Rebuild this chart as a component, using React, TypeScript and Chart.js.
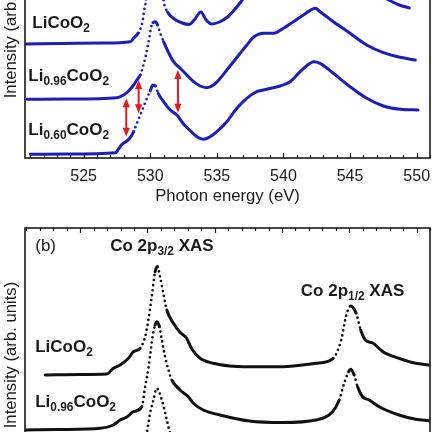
import { useEffect, useRef } from 'react';
import { Chart, registerables } from 'chart.js';

Chart.register(...registerables);

// ---------- (a) O K-edge XAS (photon energy in eV, intensity in arb. units) ----------
const oEnergyLiCoO2 = [520.7, 523.5, 526.5, 528.5, 528.75, 529.1, 529.4, 529.55, 529.7, 529.85, 530.05, 530.3, 530.55, 530.8, 531.0, 531.3, 531.8, 532.4, 532.9, 533.3, 533.8, 534.2, 534.6, 535.2, 535.8, 536.3, 536.8, 537.5, 538.5, 539.5, 540.5, 541.5, 542.5, 543.5, 545.0, 546.0, 547.0, 547.9, 548.7, 549.45];
const oIntensityLiCoO2 = [114, 114.5, 115, 116.3, 119.7, 125, 135, 148, 160, 190, 225, 240, 228, 190, 158, 146, 139, 135, 133.5, 138, 146, 138, 134, 136, 141, 148, 156, 170, 185, 190, 197, 205, 210, 200, 187, 175, 165, 158, 153, 150];

const oEnergyLi096 = [520.75, 523.75, 527.5, 528.0, 528.4, 528.75, 529.0, 529.25, 529.45, 529.65, 529.8, 529.95, 530.05, 530.2, 530.38, 530.55, 530.75, 531.0, 531.4, 531.75, 532.25, 532.75, 533.25, 533.75, 534.25, 534.75, 535.25, 535.75, 536.25, 536.75, 537.25, 537.75, 538.5, 539.25, 540.0, 540.75, 541.5, 542.4, 542.75, 543.75, 545.0, 546.25, 547.5, 548.75, 549.9];
const oIntensityLi096 = [58.7, 59, 60.3, 63, 67.3, 73, 78, 83, 91.3, 101.3, 111.3, 121.3, 129.7, 135.3, 136.3, 133, 124.7, 116.3, 104.7, 96.3, 89.7, 83, 76.3, 72, 70.3, 73, 79.7, 88, 96.3, 104.7, 113, 120.7, 124.7, 124.7, 129.7, 136.3, 143, 149.7, 146.3, 136.3, 124.7, 113, 105.3, 100.7, 98];

const oEnergyLi060 = [521.0, 523.75, 527.4, 527.6, 527.9, 528.25, 528.55, 528.75, 529.0, 529.25, 529.5, 529.75, 530.0, 530.2, 530.4, 530.6, 531.0, 531.5, 532.0, 532.5, 533.0, 533.5, 534.0, 534.5, 535.0, 535.75, 536.5, 537.25, 538.0, 538.75, 539.75, 540.5, 541.25, 542.0, 542.25, 542.75, 543.75, 545.0, 546.25, 547.5, 548.75, 550.1];
const oIntensityLi060 = [3.7, 4, 5.3, 8.7, 14, 17, 21.3, 26.3, 34.7, 43, 51.3, 59.7, 67.3, 73, 72, 64.7, 56.3, 48, 43, 34, 27.3, 21.3, 18.7, 21.3, 26.3, 36.3, 49.7, 59.7, 66.3, 68.7, 72, 76.3, 86.3, 94.7, 96.3, 94.7, 84.7, 71.3, 59.7, 52, 48.7, 48];

// Double-headed arrows marking the new pre-edge / shoulder features
const arrowEnergy = [528.2, 529.13, 532.08];
const arrowUpper = [59.7, 78, 88];
const arrowLower = [21.3, 44.7, 45.3];

const oLabelTexts = ['LiCoO{2}', 'Li{0.96}CoO{2}', 'Li{0.60}CoO{2}'];

// ---------- (b) Co 2p XAS ----------
const coEnergyLiCoO2 = [772.4, 775.0, 776.98, 777.47, 777.97, 778.59, 778.96, 779.45, 779.83, 780.07, 780.32, 780.57, 780.74, 780.94, 781.18, 781.44, 781.93, 782.4, 782.9, 783.3, 783.91, 784.9, 786.1, 787.55, 790.05, 792.5, 793.8, 794.4, 794.75, 795.1, 795.5, 795.85, 796.2, 796.75, 797.5, 798.7, 799.95, 800.9];
const coIntensityLiCoO2 = [107, 107.5, 108, 113.7, 117, 123.7, 130.3, 133.7, 145.3, 162, 185.3, 210.3, 215.3, 205.3, 188.7, 172, 158.7, 150, 144, 133, 123.7, 118.7, 116, 115.3, 115.3, 118.7, 123.7, 142, 165.3, 176, 169, 152, 142, 139, 130.3, 123.7, 118.7, 117];

const coEnergyLi096 = [770.9, 773.5, 776.5, 777.47, 777.97, 778.47, 778.96, 779.58, 779.83, 780.07, 780.25, 780.4, 780.57, 780.69, 780.89, 781.07, 781.31, 781.56, 781.81, 782.42, 783.04, 783.41, 784.15, 785.39, 787.57, 790.05, 792.52, 793.76, 794.25, 794.62, 794.95, 795.12, 795.36, 795.62, 795.99, 796.48, 797.22, 798.7, 799.94, 800.93];
const coIntensityLi096 = [52, 52.5, 53.7, 57, 62, 65, 70.3, 75.3, 95.3, 113.7, 132, 147, 157, 160.3, 155.3, 142, 125.3, 112, 102, 92, 85.3, 78.7, 72, 67, 61, 59.5, 62, 70.3, 82, 98.7, 110.3, 112.7, 107, 95.3, 85.3, 82, 75.3, 67, 62.7, 61.3];

const coEnergyLi060 = [770.9, 774, 777, 778, 779, 779.6, 779.95, 780.2, 780.44, 780.69, 781.07, 781.44, 781.68, 782.5, 784, 786, 790, 793.5, 794.5, 795.2, 796, 798, 800.9];
const coIntensityLi060 = [5, 5.5, 7, 12, 22, 32, 49, 69, 82, 93.7, 82, 62, 49, 35, 25, 19, 15, 18, 30, 45, 32, 22, 18];

const coLabelTexts = ['LiCoO{2}', 'Li{0.96}CoO{2}'];
const coEdgeTexts = ['Co 2p{3/2} XAS', 'Co 2p{1/2} XAS'];

// ---------- styling ----------
const FAMILY = '"Liberation Sans", Arial, Helvetica, sans-serif';
const TEXT = '#1a1a1a';
const BLUE = '#1b1fb8';
const BLACK = '#111111';
const RED = '#e3191f';
const CANVAS_W = 462;
const AREA_RIGHT = 430;
const X_AXIS_H = 48;
const LABEL_SIZE = 17;
const TICK_SIZE = 16;
const TITLE_SIZE = 16.7;
// on steep edges the measured points spread apart and read as separate dots
const STEEP_SLOPE = 2.2;
const DOT_PATTERN = [0, 5];

type Item = { text: string; x: number; y: number; bold: boolean; size: number };

function parseRich(s: string) {
  const segs: { t: string; sub: boolean }[] = [];
  const re = /([^{}]+)|\{([^}]*)\}/g;
  let m: RegExpExecArray | null;
  while ((m = re.exec(s))) {
    if (m[1]) segs.push({ t: m[1], sub: false });
    else segs.push({ t: m[2], sub: true });
  }
  return segs;
}

function isSteep(c: any) {
  const dx = Math.abs(c.p1.x - c.p0.x);
  const dy = Math.abs(c.p1.y - c.p0.y);
  return dy / Math.max(dx, 0.01) > STEEP_SLOPE;
}

function series(e: number[], v: number[], color: string) {
  return {
    data: e.map((x, i) => ({ x, y: v[i] })),
    borderColor: color,
    borderWidth: 3,
    borderCapStyle: 'round' as const,
    borderJoinStyle: 'round' as const,
    pointRadius: 0,
    fill: false,
    cubicInterpolationMode: 'monotone' as const,
    segment: {
      borderDash: (c: any) => (isSteep(c) ? DOT_PATTERN : undefined),
      borderWidth: (c: any) => (isSteep(c) ? 2.7 : undefined),
    },
  };
}

// box frame with inward ticks on top and bottom edges
const framePlugin = {
  id: 'frameTicks',
  afterDatasetsDraw(chart: any) {
    const { ctx, chartArea, scales } = chart;
    const { left, right, top, bottom } = chartArea;
    const xs = scales.x;
    ctx.save();
    ctx.strokeStyle = TEXT;
    ctx.lineWidth = 1.6;
    ctx.strokeRect(left, top, right - left, bottom - top);
    ctx.lineWidth = 1.2;
    ctx.beginPath();
    for (let e = Math.ceil(xs.min); e <= xs.max; e++) {
      const px = Math.round(xs.getPixelForValue(e)) + 0.5;
      const len = e % 5 === 0 ? 5 : 3;
      ctx.moveTo(px, bottom);
      ctx.lineTo(px, bottom - len);
      ctx.moveTo(px, top);
      ctx.lineTo(px, top + len);
    }
    ctx.stroke();
    ctx.restore();
  },
};

function labelsPlugin(items: Item[]) {
  return {
    id: 'richLabels',
    afterDatasetsDraw(chart: any) {
      const { ctx, scales } = chart;
      ctx.save();
      ctx.fillStyle = TEXT;
      ctx.textBaseline = 'alphabetic';
      for (const it of items) {
        let px = scales.x.getPixelForValue(it.x);
        const base = scales.y.getPixelForValue(it.y) + it.size * 0.36;
        for (const seg of parseRich(it.text)) {
          const fs = seg.sub ? it.size * 0.7 : it.size;
          ctx.font = `${it.bold ? 'bold ' : ''}${fs}px ${FAMILY}`;
          ctx.fillText(seg.t, px, seg.sub ? base + it.size * 0.25 : base);
          px += ctx.measureText(seg.t).width;
        }
      }
      ctx.restore();
    },
  };
}

const arrowPlugin = {
  id: 'arrows',
  afterDatasetsDraw(chart: any) {
    const { ctx, scales } = chart;
    ctx.save();
    ctx.strokeStyle = RED;
    ctx.fillStyle = RED;
    ctx.lineWidth = 2;
    const hw = 3.6;
    const hl = 9;
    arrowEnergy.forEach((e, i) => {
      const px = scales.x.getPixelForValue(e);
      const y1 = scales.y.getPixelForValue(arrowUpper[i]);
      const y2 = scales.y.getPixelForValue(arrowLower[i]);
      ctx.beginPath();
      ctx.moveTo(px, y1 + hl - 1);
      ctx.lineTo(px, y2 - hl + 1);
      ctx.stroke();
      ctx.beginPath();
      ctx.moveTo(px, y1);
      ctx.lineTo(px - hw, y1 + hl);
      ctx.lineTo(px + hw, y1 + hl);
      ctx.closePath();
      ctx.fill();
      ctx.beginPath();
      ctx.moveTo(px, y2);
      ctx.lineTo(px - hw, y2 - hl);
      ctx.lineTo(px + hw, y2 - hl);
      ctx.closePath();
      ctx.fill();
    });
    ctx.restore();
  },
};

function scalesFor(xMin: number, xMax: number, yMax: number) {
  return {
    x: {
      type: 'linear' as const,
      min: xMin,
      max: xMax,
      grid: { display: false, drawTicks: false },
      border: { display: false },
      ticks: {
        stepSize: 5,
        includeBounds: false,
        padding: 9,
        color: TEXT,
        maxRotation: 0,
        autoSkip: false,
        font: { family: FAMILY, size: TICK_SIZE },
        callback: (v: any) => String(v),
      },
      title: { display: true, text: 'Photon energy (eV)', color: TEXT, font: { family: FAMILY, size: TITLE_SIZE }, padding: 0 },
      afterFit: (s: any) => {
        s.height = X_AXIS_H;
      },
    },
    y: {
      type: 'linear' as const,
      min: 0,
      max: yMax,
      grid: { display: false, drawTicks: false },
      border: { display: false },
      ticks: { display: false },
      title: {
        display: true,
        text: 'Intensity (arb. units)',
        color: TEXT,
        font: { family: FAMILY, size: TITLE_SIZE },
        padding: { top: 1, bottom: 0 },
      },
      afterFit: (s: any) => {
        s.width = 25;
      },
    },
  };
}

function baseOptions(xMin: number, xMax: number, yMax: number) {
  return {
    responsive: false,
    animation: false as const,
    events: [] as any[],
    layout: { padding: { top: 8, right: CANVAS_W - AREA_RIGHT, left: 0, bottom: 0 } },
    plugins: { legend: { display: false }, tooltip: { enabled: false } },
    scales: scalesFor(xMin, xMax, yMax),
  };
}

function buildOxygen(canvas: HTMLCanvasElement) {
  const labelAt: [number, number][] = [
    [521.15, 136.5],
    [520.85, 83],
    [520.85, 29],
  ];
  const items: Item[] = oLabelTexts.map((t, i) => ({ text: t, x: labelAt[i][0], y: labelAt[i][1], bold: true, size: LABEL_SIZE }));
  return new Chart(canvas, {
    type: 'line',
    data: {
      datasets: [
        series(oEnergyLiCoO2, oIntensityLiCoO2, BLUE),
        series(oEnergyLi096, oIntensityLi096, BLUE),
        series(oEnergyLi060, oIntensityLi060, BLUE),
      ],
    },
    options: baseOptions(520.6, 551, 266) as any,
    plugins: [framePlugin, arrowPlugin, labelsPlugin(items)],
  });
}

function buildCobalt(canvas: HTMLCanvasElement) {
  const items: Item[] = [
    { text: '(b)', x: 771.66, y: 236.7, bold: false, size: LABEL_SIZE },
    { text: coEdgeTexts[0], x: 777.23, y: 237.2, bold: true, size: LABEL_SIZE },
    { text: coEdgeTexts[1], x: 791.4, y: 192, bold: true, size: LABEL_SIZE },
    { text: coLabelTexts[0], x: 771.66, y: 136, bold: true, size: LABEL_SIZE },
    { text: coLabelTexts[1], x: 771.66, y: 81, bold: true, size: LABEL_SIZE },
  ];
  return new Chart(canvas, {
    type: 'line',
    data: {
      datasets: [
        series(coEnergyLiCoO2, coIntensityLiCoO2, BLACK),
        series(coEnergyLi096, coIntensityLi096, BLACK),
        series(coEnergyLi060, coIntensityLi060, BLACK),
      ],
    },
    options: baseOptions(770.9, 801, 254) as any,
    plugins: [framePlugin, labelsPlugin(items)],
  });
}

function Panel({ top, height, build }: { top: number; height: number; build: (c: HTMLCanvasElement) => Chart }) {
  const ref = useRef<HTMLCanvasElement>(null);
  useEffect(() => {
    const chart = build(ref.current!);
    return () => chart.destroy();
  }, [build]);
  return (
    <canvas
      ref={ref}
      width={CANVAS_W}
      height={height}
      style={{ position: 'absolute', left: 0, top, display: 'block' }}
    />
  );
}

export default function App() {
  return (
    <div
      style={{
        position: 'fixed',
        left: 0,
        top: 0,
        width: 432,
        height: 432,
        overflow: 'hidden',
        background: '#ffffff',
      }}
    >
      <Panel top={-116} height={322} build={buildOxygen} />
      <Panel top={220} height={310} build={buildCobalt} />
    </div>
  );
}
